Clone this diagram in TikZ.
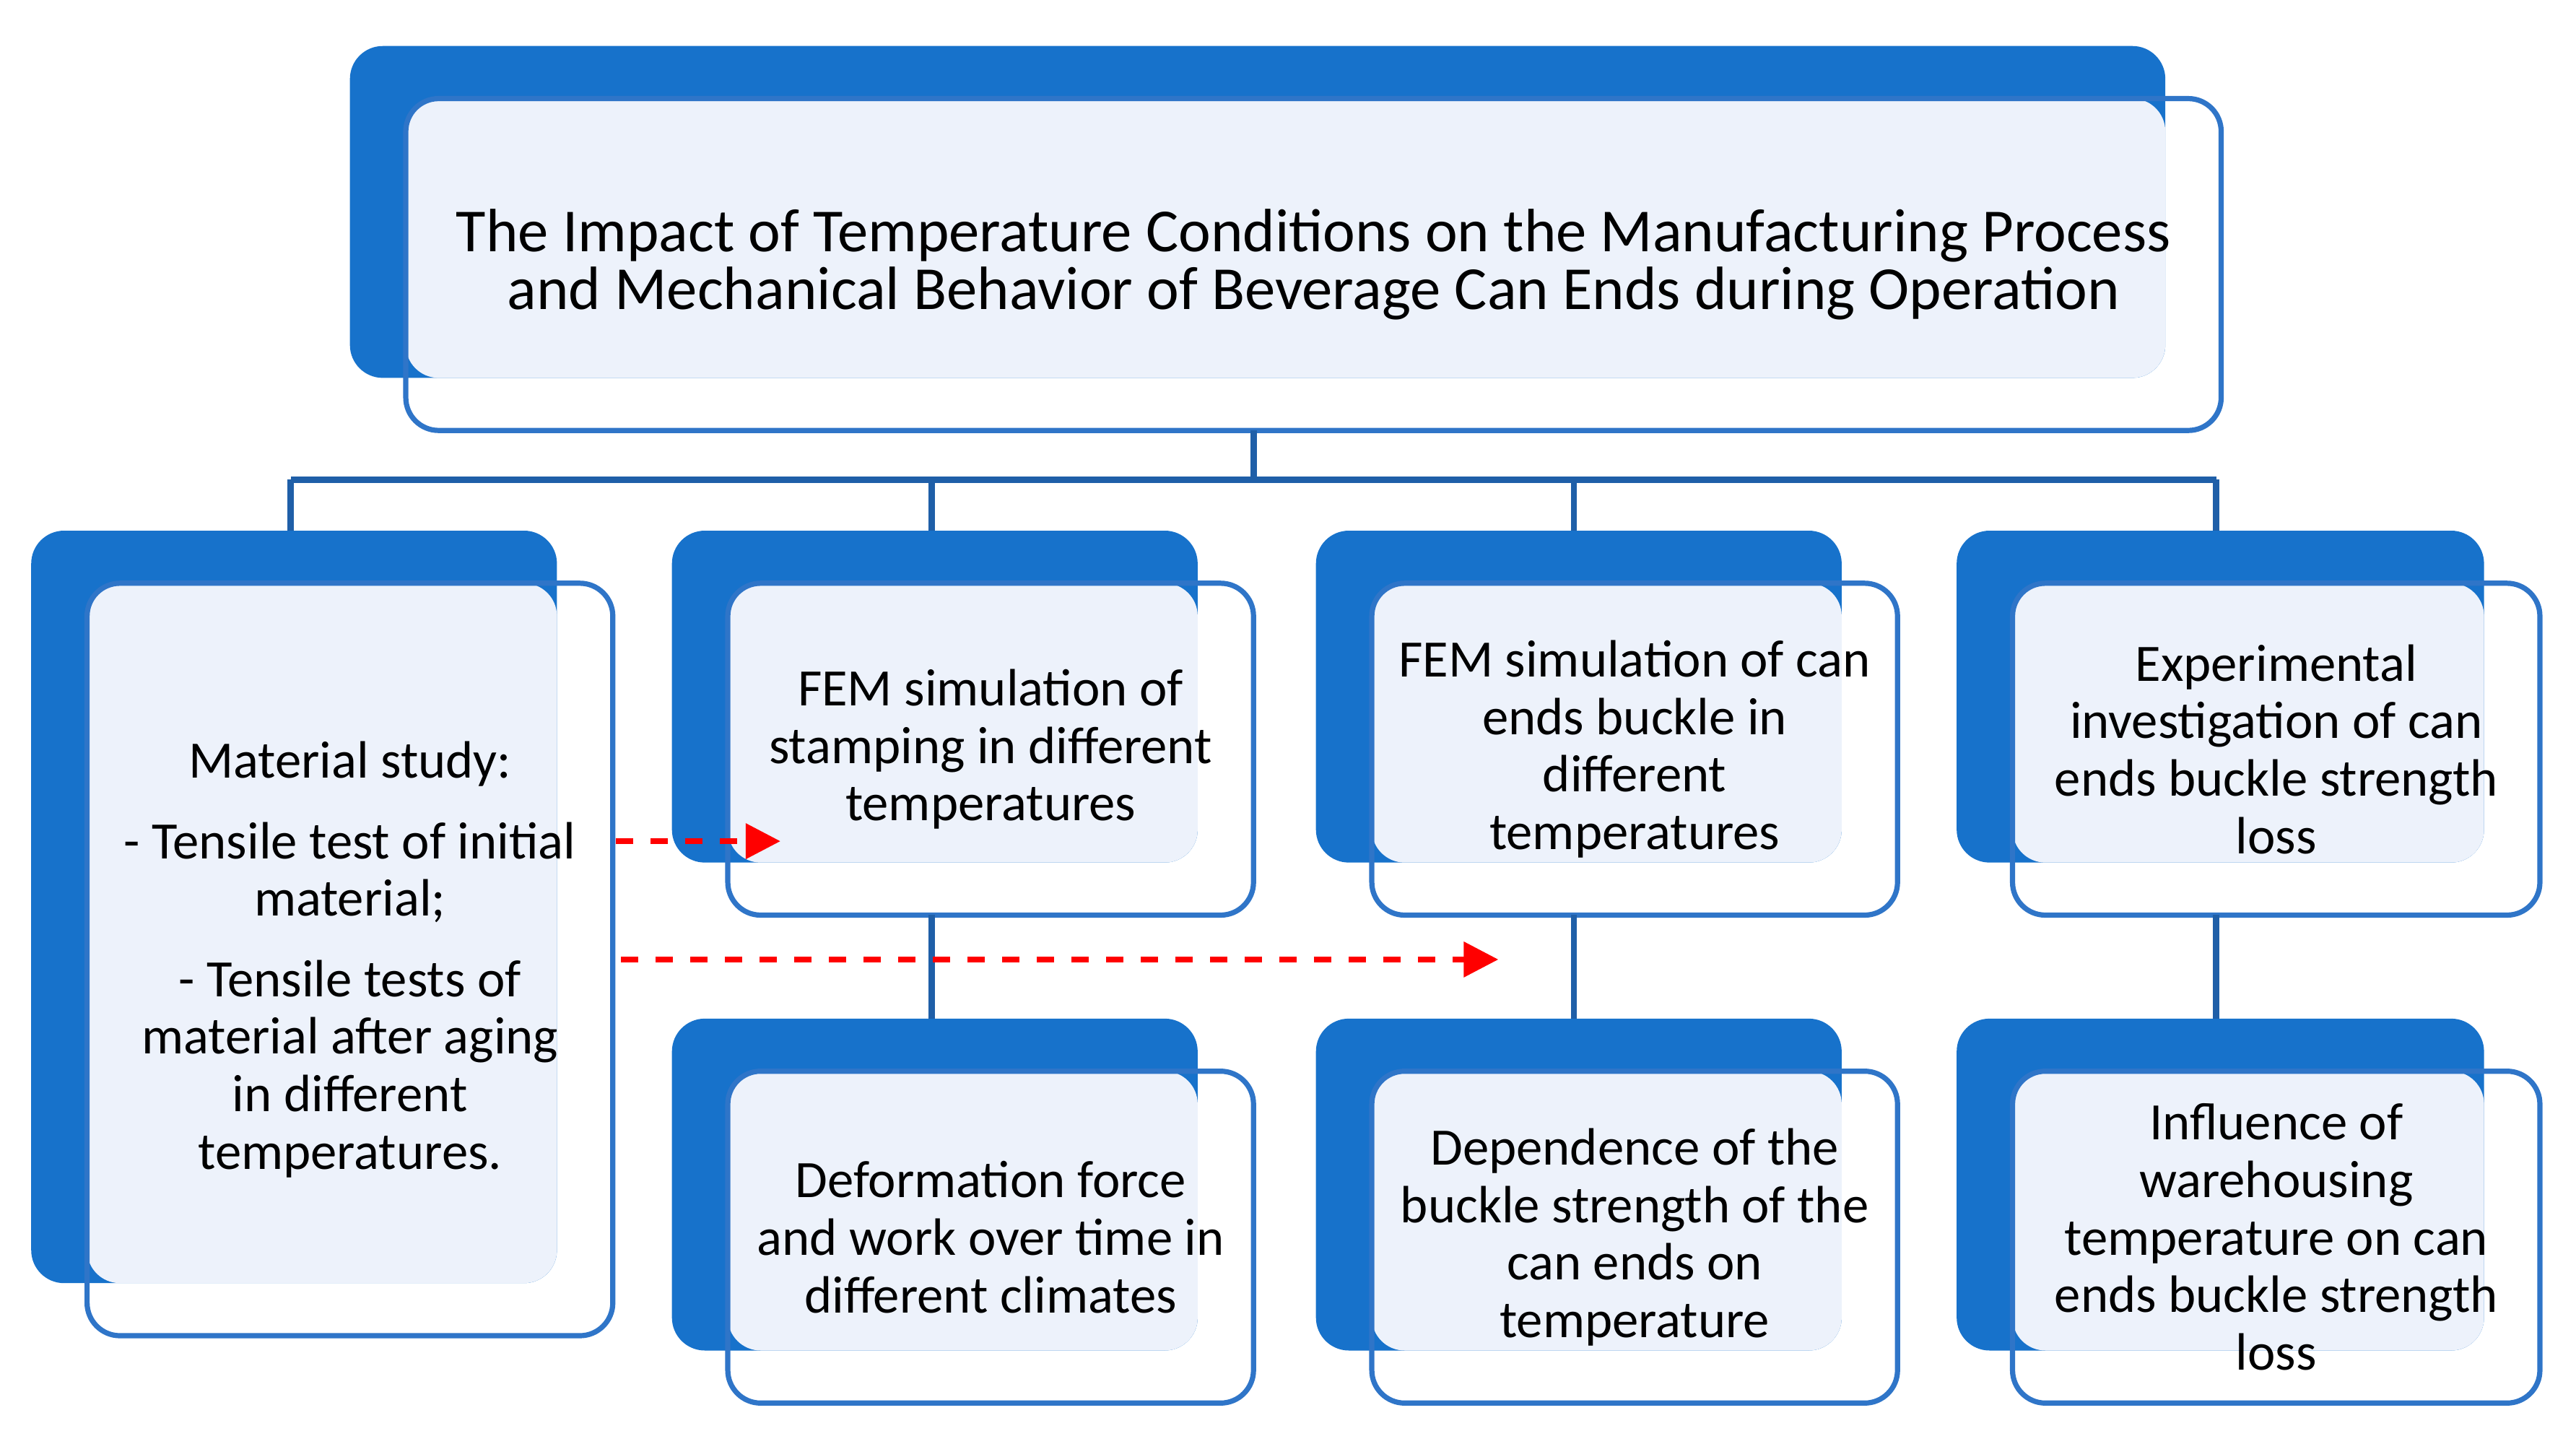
\documentclass[tikz,border=0pt]{standalone}
\usepackage{fontspec}
\setmainfont{Carlito}
\usetikzlibrary{arrows.meta}
\definecolor{darkblue}{HTML}{1772CB}
\definecolor{lineblue}{HTML}{2F75C8}
\definecolor{lightfill}{HTML}{EDF2FB}
\definecolor{linkblue}{HTML}{1F5FA8}
\tikzset{
  back/.style = {fill = darkblue, rounded corners = 0.2cm},
  light/.style = {fill = lightfill, rounded corners = 0.2cm},
  front/.style = {draw = lineblue, line width = 0.9pt, rounded corners = 0.2cm, align = center, inner sep = 0pt,
    font = \fontsize{9.1}{9.96}\selectfont},
  link/.style = {draw = linkblue, line width = 1.1pt},
  flow/.style = {draw = red, line width = 0.9pt, dashed, -{Triangle[length = 6pt, width = 6pt]}}
}
% front box: name, left, top, width, height (px), text
\newcommand{\canbox}[6]{
  \pgfmathsetmacro{\bx}{#2/100}
  \pgfmathsetmacro{\by}{-#3/100}
  \pgfmathsetmacro{\bw}{#4/100}
  \pgfmathsetmacro{\bh}{#5/100}
  \fill [back] (\bx - 0.34, \by + 0.32) rectangle ++(\bw, -\bh);
  \fill [light] (\bx, \by) rectangle (\bx + \bw - 0.34, \by - \bh + 0.32);
  \draw [front] (\bx, \by) rectangle ++(\bw, -\bh);
  \node [front, draw = none] (#1) at (\bx + \bw/2, \by - \bh/2) {#6};
}
\begin{document}
\begin{tikzpicture}
				\useasboundingbox (0, 0) rectangle (15.68, -8.71);

				\canbox{title}{247}{60}{1105}{202}{\fontsize{10.6}{11.4}\selectfont The Impact of Temperature Conditions on the Manufacturing Process\\ \fontsize{10.6}{11.4}\selectfont and Mechanical Behavior of Beverage Can Ends during Operation}

				\canbox{mat}{53}{355}{320}{458}{Material study:\\[4pt] - Tensile test of initial\\ material;\\[4pt] - Tensile tests of\\ material after aging\\ in different\\ temperatures.}
				\canbox{stamp}{443}{355}{320}{202}{FEM simulation of\\ stamping in different\\ temperatures}
				\canbox{buck}{835}{355}{320}{202}{FEM simulation of can\\ ends buckle in\\ different\\ temperatures}
				\canbox{exp}{1225}{355}{321}{202}{Experimental\\ investigation of can\\ ends buckle strength\\ loss}

				\canbox{force}{443}{652}{320}{202}{Deformation force\\ and work over time in\\ different climates}
				\canbox{dep}{835}{652}{320}{202}{Dependence of the\\ buckle strength of the\\ can ends on\\ temperature}
				\canbox{ware}{1225}{652}{321}{202}{Influence of\\ warehousing\\ temperature on can\\ ends buckle strength\\ loss}

				\coordinate (t0) at (7.63, -2.92);
				\coordinate (t1) at (1.77, -2.92);
				\coordinate (t2) at (5.67, -2.92);
				\coordinate (t3) at (9.58, -2.92);
				\coordinate (t4) at (13.49, -2.92);
				\coordinate (s1) at (1.77, -3.23);
				\coordinate (s2) at (5.67, -3.23);
				\coordinate (s3) at (9.58, -3.23);
				\coordinate (s4) at (13.49, -3.23);

				\draw [link] (t0 |- 0, -2.62) -- (t0);
				\draw [link] (t1) -- (t4);
				\draw [link] (t1) -- (s1);
				\draw [link] (t2) -- (s2);
				\draw [link] (t3) -- (s3);
				\draw [link] (t4) -- (s4);
				\draw [link] (s2 |- 0, -5.57) -- (s2 |- 0, -6.20);
				\draw [link] (s3 |- 0, -5.57) -- (s3 |- 0, -6.20);
				\draw [link] (s4 |- 0, -5.57) -- (s4 |- 0, -6.20);

				\coordinate (r1) at (4.75, -5.12);
				\coordinate (r2) at (9.12, -5.84);
				\draw [flow] (3.75, -5.12) -- (r1);
				\draw [flow] (3.78, -5.84) -- (r2);
\end{tikzpicture}
\end{document}
